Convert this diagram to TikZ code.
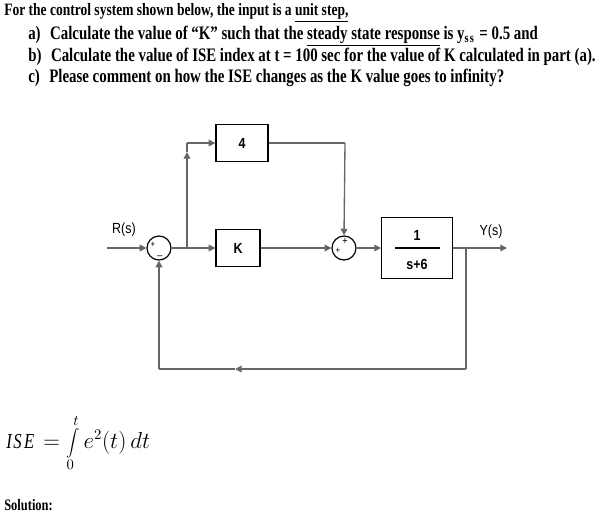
\documentclass[tikz,border=0pt]{standalone}
\usepackage{fontspec}
\setmainfont{Liberation Serif}[FakeStretch=0.78]
\newfontfamily\diagfont{Liberation Sans}[FakeStretch=0.85]
\usetikzlibrary{arrows.meta}
\begin{document}
\begin{tikzpicture}[x=0.75pt,y=-0.75pt,
  blk/.style={draw,line width=1pt,minimum width=#1,minimum height=28pt,inner sep=0pt,font=\diagfont\bfseries\fontsize{11}{12}\selectfont},
  sumj/.style={draw,circle,line width=0.9pt,minimum size=18pt,inner sep=0pt},
  sig/.style={draw=gray!80!black,line width=1pt,-{Triangle[length=5pt,width=5pt]}},
  ln/.style={draw=gray!80!black,line width=1pt},
  txt/.style={anchor=west,inner sep=0pt,font=\bfseries\fontsize{13}{15}\selectfont},
  txtb/.style={anchor=west,inner sep=0pt,font=\bfseries\fontsize{14.3}{16}\selectfont}]
\useasboundingbox (0,0) rectangle (609,519);
\node[txt] (t1) at (4,13) {For the control system shown below, the input is a \underline{unit step,}};
\node[txtb] (t2) at (28,36) {a)\enspace Calculate the value of ``K'' such that the \underline{steady state response} is y$_{\mathbf{ss}}$ = 0.5 and};
\node[txtb] (t3) at (28,57) {b)\enspace Calculate the value of ISE index at t = 100 sec for the value of K calculated in part (a).};
\node[txtb] (t4) at (28,78) {c)\enspace Please comment on how the ISE changes as the K value goes to infinity?};
% diagram
\coordinate (in) at (107,248);
\node[sumj] (s1) at (159,248) {};
\node[font=\diagfont\fontsize{7}{7}\selectfont] (p1) at (153,245) {+};
\node[font=\diagfont\fontsize{8}{8}\selectfont] (m1) at (160,256) {\_};
\node[blk=39pt] (b4) at (242,143) {4};
\node[blk=33pt] (bk) at (238,248) {K};
\node[sumj] (s2) at (344,248) {};
\node[font=\diagfont\fontsize{7}{7}\selectfont] (p2) at (338,251) {+};
\node[font=\diagfont\fontsize{8}{8}\selectfont] (p3) at (345,241) {+};
\node[draw,line width=1pt,minimum width=53pt,minimum height=46pt,inner sep=0pt] (bg) at (417,248) {};
\draw[line width=0.8pt] (395,248) -- (440,248);
\node[font=\diagfont\bfseries\fontsize{11}{12}\selectfont] (num) at (417,235) {1};
\node[font=\diagfont\bfseries\fontsize{11}{12}\selectfont] (den) at (417,264) {s+6};
\coordinate (out) at (507,248);
\node[font=\diagfont\fontsize{11}{12}\selectfont] (R) at (124,230) {R(s)};
\node[font=\diagfont\fontsize{11}{12}\selectfont] (Y) at (491,232) {Y(s)};
\coordinate (br) at (187,248);
\coordinate (brt) at (187,143);
\coordinate (fb) at (466,248);
\coordinate (fbb) at (466,369);
\coordinate (fbl) at (159,369);
\coordinate (ft) at (345,143);
\draw[sig] (in) -- (s1.west);
\draw[ln] (s1.east) -- (br);
\draw[sig] (br) -- (bk.west);
\draw[sig] (br) -- (187,152);
\draw[ln] (187,152) -- (brt);
\draw[sig] (brt) -- (b4.west);
\draw[ln,line width=1.6pt] (b4.east) -- (ft);
\draw[sig] (ft) -- (s2.north);
\draw[sig] (bk.east) -- (s2.west);
\draw[sig] (s2.east) -- (bg.west);
\draw[sig] (bg.east) -- (out);
\draw[ln,line width=1.6pt] (fb) -- (fbb);
\draw[sig,line width=1.6pt] (fbb) -- (235,369);
\draw[ln,line width=1.6pt] (235,369) -- (fbl);
\draw[sig] (fbl) -- (s1.south);
% formula
\node[anchor=west,inner sep=0pt,font=\fontsize{16}{18}\selectfont] (ise) at (6,443) {$\mathit{ISE}=\displaystyle\int\limits_0^t e^2(t)\,dt$};
\node[txt,font=\bfseries\fontsize{12}{14}\selectfont] (sol) at (4,505) {Solution:};
\end{tikzpicture}
\end{document}
